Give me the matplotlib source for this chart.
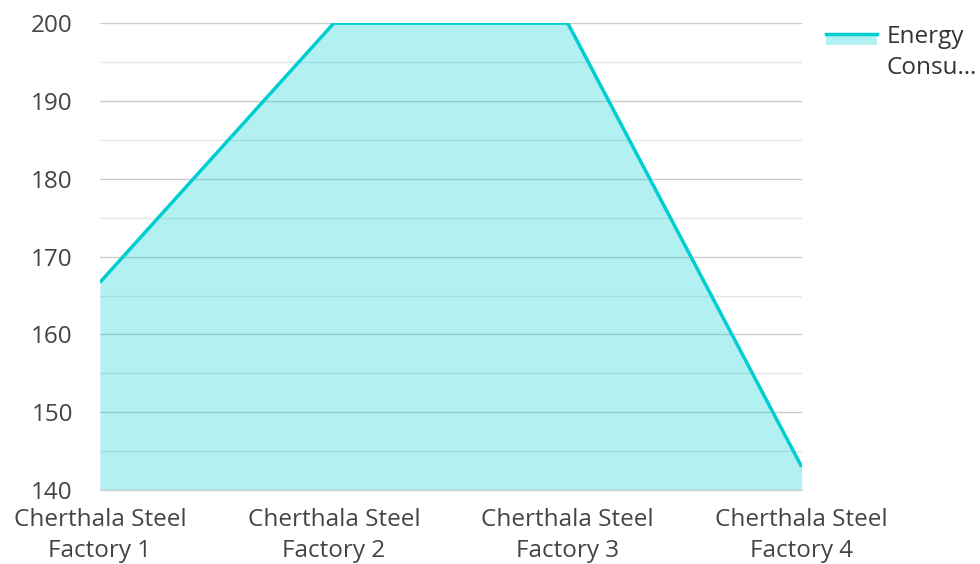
import matplotlib
matplotlib.use("Agg")
import matplotlib.pyplot as plt
from matplotlib.legend_handler import HandlerBase
from matplotlib.patches import Rectangle
from matplotlib.lines import Line2D

plt.rcParams['font.family'] = ['Open Sans', 'Noto Sans', 'DejaVu Sans']

factories = ["Cherthala Steel\nFactory 1", "Cherthala Steel\nFactory 2",
             "Cherthala Steel\nFactory 3", "Cherthala Steel\nFactory 4"]
energy = [166.7, 200, 200, 143]
series_name = "Energy\nConsu…"

line_col = "#00CED1"
text_col = "#444444"
fsize = 17.5


class AreaHandler(HandlerBase):
    # teal line sitting on top of a light fill block
    def create_artists(self, legend, orig, xd, yd, w, h, fontsize, trans):
        top = yd + h * 1.6
        rect = Rectangle((xd, top - h * 0.65), w, h * 0.65, facecolor=line_col,
                         alpha=0.3, edgecolor="none", transform=trans)
        ln = Line2D([xd, xd + w], [top, top], color=line_col, lw=2.5,
                    transform=trans)
        return [rect, ln]


fig = plt.figure(figsize=(9.8, 5.64), dpi=100)
ax = fig.add_axes([0.102, 0.131, 0.716, 0.828])

x = list(range(len(factories)))
ax.fill_between(x, energy, 140, color=line_col, alpha=0.3, lw=0, zorder=2)
ax.plot(x, energy, color=line_col, lw=2.5, zorder=3, solid_capstyle="butt")

ax.set_xlim(0, len(factories) - 1)
ax.set_ylim(140, 200)
ax.set_yticks(range(140, 201, 10))
ax.set_yticks(range(145, 200, 10), minor=True)
ax.grid(axis="y", which="major", color="#cccccc", lw=1, zorder=1)
ax.grid(axis="y", which="minor", color="#e6e6e6", lw=1, zorder=1)
ax.set_axisbelow(True)
ax.set_xticks(x)
ax.set_xticklabels(factories, linespacing=1.38)

for s in ["top", "right", "left"]:
    ax.spines[s].set_visible(False)
ax.spines["bottom"].set_color("#cccccc")
ax.tick_params(axis="both", which="both", length=0, labelsize=fsize,
               labelcolor=text_col)
ax.tick_params(axis="y", pad=19.5)
ax.tick_params(axis="x", pad=13)

leg = fig.legend([object()], [series_name], handler_map={object: AreaHandler()},
                 loc="upper left", bbox_to_anchor=(826 / 980, 1 - 25 / 564),
                 frameon=False, borderpad=0, borderaxespad=0,
                 fontsize=fsize, labelcolor="#333333", handlelength=2.08,
                 handletextpad=0.42)
for t in leg.get_texts():
    t.set_linespacing(1.38)

fig.savefig("out.png", dpi=100)
